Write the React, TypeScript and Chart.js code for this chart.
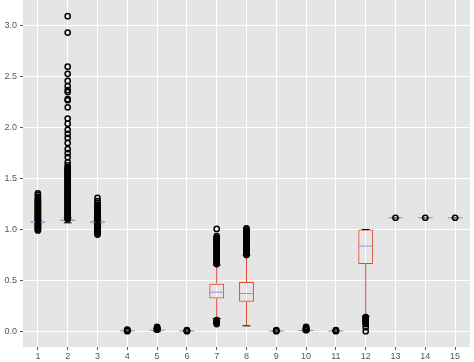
import React, { useEffect, useRef } from "react";
import { Chart, registerables } from "chart.js";

Chart.register(...registerables);

const positions = [1, 2, 3, 4, 5, 6, 7, 8, 9, 10, 11, 12, 13, 14, 15];
const yTicks = [0, 0.5, 1.0, 1.5, 2.0, 2.5, 3.0];

const q1 = [1.068, 1.085, 1.068, 0.002, 0.006, 0.001, 0.322, 0.29, 0.001, 0.003, 0.001, 0.66, 1.115, 1.115, 1.115];
const medians = [1.072, 1.089, 1.073, 0.004, 0.01, 0.002, 0.384, 0.371, 0.002, 0.006, 0.002, 0.837, 1.115, 1.115, 1.115];
const q3 = [1.078, 1.097, 1.078, 0.006, 0.015, 0.004, 0.467, 0.483, 0.004, 0.009, 0.004, 1.0, 1.115, 1.115, 1.115];
const whiskerLow = [1.055, 1.065, 1.055, 0.0, 0.0, 0.0, 0.125, 0.053, 0.0, 0.0, 0.0, 0.148, 1.115, 1.115, 1.115];
const whiskerHigh = [1.09, 1.115, 1.09, 0.01, 0.025, 0.007, 0.65, 0.745, 0.007, 0.015, 0.007, 1.0, 1.115, 1.115, 1.115];

const fliers1 = [0.99, 1.0, 1.01, 1.02, 1.03, 1.04, 1.05, 1.09, 1.1, 1.11, 1.12, 1.13, 1.14, 1.15, 1.16, 1.17, 1.18, 1.19, 1.2, 1.21, 1.22, 1.23, 1.24, 1.25, 1.26, 1.27, 1.28, 1.29, 1.3, 1.32, 1.34, 1.355];
const fliers2 = [1.1, 1.11, 1.12, 1.13, 1.14, 1.15, 1.16, 1.17, 1.18, 1.19, 1.2, 1.21, 1.22, 1.23, 1.24, 1.25, 1.26, 1.27, 1.28, 1.29, 1.3, 1.31, 1.32, 1.33, 1.34, 1.35, 1.36, 1.37, 1.38, 1.39, 1.4, 1.41, 1.42, 1.43, 1.44, 1.45, 1.46, 1.47, 1.48, 1.49, 1.5, 1.51, 1.52, 1.53, 1.54, 1.55, 1.56, 1.57, 1.58, 1.59, 1.6, 1.61, 1.63, 1.66, 1.71, 1.75, 1.79, 1.85, 1.9, 1.94, 1.98, 2.04, 2.09, 2.2, 2.27, 2.28, 2.35, 2.37, 2.41, 2.46, 2.53, 2.6, 2.935, 3.096];
const fliers3 = [0.95, 0.96, 0.97, 0.98, 0.99, 1.0, 1.01, 1.02, 1.03, 1.04, 1.05, 1.09, 1.1, 1.11, 1.12, 1.13, 1.14, 1.15, 1.16, 1.17, 1.18, 1.19, 1.2, 1.21, 1.22, 1.23, 1.24, 1.26, 1.28, 1.31];
const fliers4 = [0.0, 0.005, 0.01, 0.015];
const fliers5 = [0.015, 0.02, 0.025, 0.03, 0.036, 0.042];
const fliers6 = [0.0, 0.005, 0.01];
const fliers7 = [0.07, 0.08, 0.09, 0.1, 0.11, 0.66, 0.67, 0.68, 0.69, 0.7, 0.71, 0.72, 0.73, 0.74, 0.75, 0.76, 0.77, 0.78, 0.79, 0.8, 0.81, 0.82, 0.83, 0.84, 0.85, 0.86, 0.87, 0.88, 0.89, 0.9, 0.91, 0.92, 0.936, 1.005];
const fliers8 = [0.75, 0.76, 0.77, 0.78, 0.79, 0.8, 0.81, 0.82, 0.83, 0.84, 0.85, 0.86, 0.87, 0.88, 0.89, 0.9, 0.91, 0.92, 0.93, 0.94, 0.95, 0.96, 0.97, 0.98, 0.99, 1.0, 1.01];
const fliers9 = [0.0, 0.005, 0.01];
const fliers10 = [0.01, 0.015, 0.02, 0.025, 0.03, 0.035, 0.044];
const fliers11 = [0.0, 0.005, 0.01];
const fliers12 = [0.0, 0.04, 0.07, 0.08, 0.09, 0.1, 0.11, 0.12, 0.13, 0.14];
const fliers13 = [1.115];
const fliers14 = [1.115];
const fliers15 = [1.115];
const fliers = [fliers1, fliers2, fliers3, fliers4, fliers5, fliers6, fliers7, fliers8, fliers9, fliers10, fliers11, fliers12, fliers13, fliers14, fliers15];

const BOX_HALF = 0.25;
const CAP_HALF = 0.13;

const FONT = { family: "'Liberation Sans', 'DejaVu Sans', sans-serif", size: 9 };

const bgPlugin = {
  id: "axesBg",
  beforeDraw(chart: any) {
    const { ctx, chartArea } = chart;
    ctx.save();
    ctx.fillStyle = "#E5E5E5";
    ctx.fillRect(chartArea.left, chartArea.top, chartArea.right - chartArea.left, chartArea.bottom - chartArea.top);
    ctx.restore();
  },
};

export default function App() {
  const ref = useRef<HTMLCanvasElement | null>(null);
  useEffect(() => {
    document.body.style.margin = "0";
    const segs = (fn: (p: number, i: number) => { x: number; y: number }[]) => {
      const out: any[] = [];
      positions.forEach((p, i) => {
        out.push(...fn(p, i));
        out.push({ x: p, y: null });
      });
      return out;
    };
    const whiskerData = segs((p, i) => [
      { x: p, y: whiskerLow[i] },
      { x: p, y: q1[i] },
      { x: p, y: null as any },
      { x: p, y: q3[i] },
      { x: p, y: whiskerHigh[i] },
    ]);
    const capData = segs((p, i) => [
      { x: p - CAP_HALF, y: whiskerLow[i] },
      { x: p + CAP_HALF, y: whiskerLow[i] },
      { x: p, y: null as any },
      { x: p - CAP_HALF, y: whiskerHigh[i] },
      { x: p + CAP_HALF, y: whiskerHigh[i] },
    ]);
    const medianData = segs((p, i) => [
      { x: p - BOX_HALF, y: medians[i] },
      { x: p + BOX_HALF, y: medians[i] },
    ]);
    const flierData: any[] = [];
    positions.forEach((p, i) => fliers[i].forEach((v) => flierData.push({ x: p, y: v })));

    const chart = new Chart(ref.current!, {
      type: "bar",
      data: {
        datasets: [
          {
            type: "scatter",
            data: flierData,
            order: 0,
            pointStyle: "circle",
            pointRadius: 2.6,
            pointBorderWidth: 1.5,
            borderColor: "#000000",
            backgroundColor: "rgba(0,0,0,0)",
            showLine: false,
          } as any,
          {
            type: "line",
            data: medianData,
            order: 1,
            borderColor: "#988ED5",
            borderWidth: 1,
            pointRadius: 0,
            spanGaps: false,
          } as any,
          {
            type: "line",
            data: capData,
            order: 2,
            borderColor: "#000000",
            borderWidth: 1,
            pointRadius: 0,
            spanGaps: false,
          } as any,
          {
            type: "line",
            data: whiskerData,
            order: 3,
            borderColor: "#E24A33",
            borderWidth: 1,
            pointRadius: 0,
            spanGaps: false,
          } as any,
          {
            type: "bar",
            data: positions.map((p, i) => ({ x: p, y: [q1[i], q3[i]] })),
            order: 4,
            backgroundColor: "rgba(0,0,0,0)",
            borderColor: "#E24A33",
            borderWidth: 1,
            borderSkipped: false,
            barPercentage: 0.5,
            categoryPercentage: 1,
            grouped: false,
          } as any,
        ],
      },
      options: {
        animation: false,
        responsive: false,
        events: [],
        layout: { autoPadding: false, padding: { top: 0, right: 4, left: 0, bottom: 0 } },
        plugins: { legend: { display: false }, tooltip: { enabled: false } },
        scales: {
          x: {
            type: "linear",
            offset: false,
            min: 0.5,
            max: 15.5,
            afterBuildTicks: (axis: any) => {
              axis.ticks = positions.map((v) => ({ value: v }));
            },
            afterFit: (s: any) => {
              s.height = 15;
              s.paddingLeft = 0;
              s.paddingRight = 0;
            },
            grid: { color: "#FFFFFF", lineWidth: 1, tickColor: "#555555", tickLength: 3, offset: false },
            border: { display: false },
            ticks: {
              color: "#555555",
              font: FONT,
              padding: 1,
              maxRotation: 0,
              autoSkip: false,
              callback: (v: any) => String(v),
            },
          },
          y: {
            type: "linear",
            min: -0.155,
            max: 3.255,
            afterBuildTicks: (axis: any) => {
              axis.ticks = yTicks.map((v) => ({ value: v }));
            },
            afterFit: (s: any) => {
              s.width = 23;
              s.paddingTop = 0;
              s.paddingBottom = 0;
            },
            grid: { color: "#FFFFFF", lineWidth: 1, tickColor: "#555555", tickLength: 3 },
            border: { display: false },
            ticks: {
              color: "#555555",
              font: FONT,
              padding: 3,
              callback: (v: any) => Number(v).toFixed(1),
            },
          },
        },
      },
      plugins: [bgPlugin],
    });
    return () => chart.destroy();
  }, []);
  return (
    <div style={{ width: 474, height: 362, background: "#FFFFFF" }}>
      <canvas ref={ref} width={474} height={362} />
    </div>
  );
}
